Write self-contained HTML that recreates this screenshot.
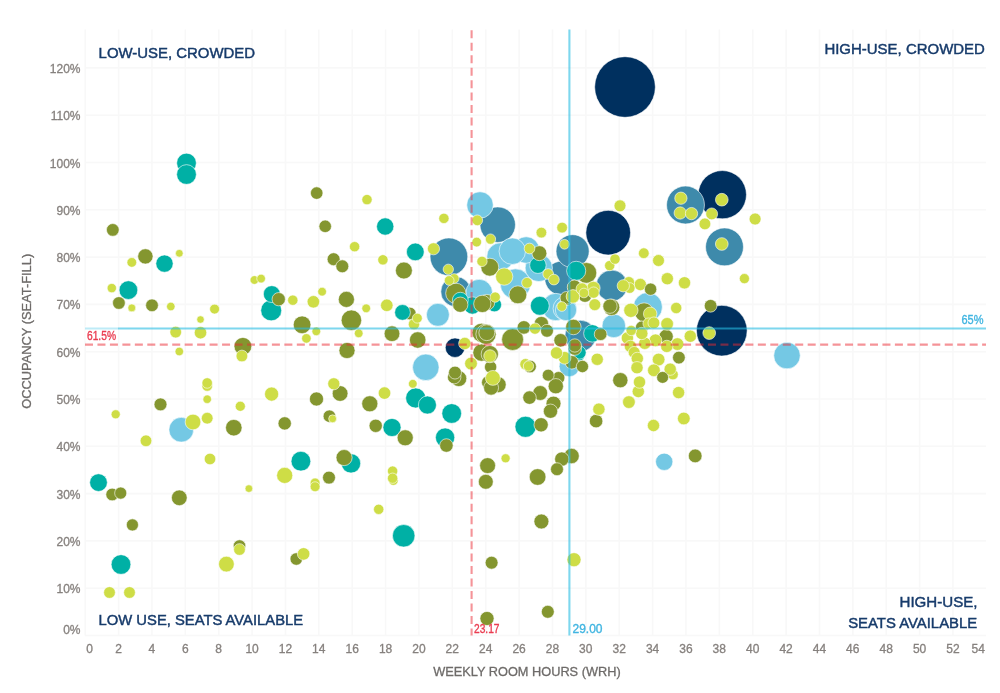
<!DOCTYPE html>
<html lang="en"><head><meta charset="utf-8"><title>Classroom utilization: weekly room hours vs occupancy</title>
<style>
html,body{margin:0;padding:0;background:#fff}
body{width:1000px;height:693px;overflow:hidden;font-family:"Liberation Sans",sans-serif}
svg{display:block}
.tick{font-size:12px;fill:#86817e}
.q{font-size:15.1px;fill:#173b6b}
.ax{font-size:13px;fill:#6e6b69}
.c circle{stroke:#fff;stroke-width:.7;stroke-opacity:.85}
.lb{stroke-width:.35}

.tick,.ax{stroke:#86817e;stroke-width:.3}
.ax{stroke:#6e6b69}
.q{stroke:#173b6b;stroke-width:.45}
</style></head><body>
<svg width="1000" height="693" viewBox="0 0 1000 693" font-family="Liberation Sans, sans-serif">
<rect width="1000" height="693" fill="#fff"/>

<g stroke="#f8f8f8" stroke-width="1.6" fill="none">
<line x1="85.20" y1="29.5" x2="85.20" y2="635.5"/>
<line x1="118.58" y1="29.5" x2="118.58" y2="635.5"/>
<line x1="151.95" y1="29.5" x2="151.95" y2="635.5"/>
<line x1="185.32" y1="29.5" x2="185.32" y2="635.5"/>
<line x1="218.70" y1="29.5" x2="218.70" y2="635.5"/>
<line x1="252.07" y1="29.5" x2="252.07" y2="635.5"/>
<line x1="285.45" y1="29.5" x2="285.45" y2="635.5"/>
<line x1="318.82" y1="29.5" x2="318.82" y2="635.5"/>
<line x1="352.20" y1="29.5" x2="352.20" y2="635.5"/>
<line x1="385.57" y1="29.5" x2="385.57" y2="635.5"/>
<line x1="418.95" y1="29.5" x2="418.95" y2="635.5"/>
<line x1="452.32" y1="29.5" x2="452.32" y2="635.5"/>
<line x1="485.70" y1="29.5" x2="485.70" y2="635.5"/>
<line x1="519.08" y1="29.5" x2="519.08" y2="635.5"/>
<line x1="552.45" y1="29.5" x2="552.45" y2="635.5"/>
<line x1="585.83" y1="29.5" x2="585.83" y2="635.5"/>
<line x1="619.20" y1="29.5" x2="619.20" y2="635.5"/>
<line x1="652.58" y1="29.5" x2="652.58" y2="635.5"/>
<line x1="685.95" y1="29.5" x2="685.95" y2="635.5"/>
<line x1="719.33" y1="29.5" x2="719.33" y2="635.5"/>
<line x1="752.70" y1="29.5" x2="752.70" y2="635.5"/>
<line x1="786.08" y1="29.5" x2="786.08" y2="635.5"/>
<line x1="819.45" y1="29.5" x2="819.45" y2="635.5"/>
<line x1="852.83" y1="29.5" x2="852.83" y2="635.5"/>
<line x1="886.20" y1="29.5" x2="886.20" y2="635.5"/>
<line x1="919.58" y1="29.5" x2="919.58" y2="635.5"/>
<line x1="952.95" y1="29.5" x2="952.95" y2="635.5"/>
<line x1="85" y1="635.50" x2="986" y2="635.50"/>
<line x1="85" y1="588.20" x2="986" y2="588.20"/>
<line x1="85" y1="540.90" x2="986" y2="540.90"/>
<line x1="85" y1="493.60" x2="986" y2="493.60"/>
<line x1="85" y1="446.30" x2="986" y2="446.30"/>
<line x1="85" y1="399.00" x2="986" y2="399.00"/>
<line x1="85" y1="351.70" x2="986" y2="351.70"/>
<line x1="85" y1="304.40" x2="986" y2="304.40"/>
<line x1="85" y1="257.10" x2="986" y2="257.10"/>
<line x1="85" y1="209.80" x2="986" y2="209.80"/>
<line x1="85" y1="162.50" x2="986" y2="162.50"/>
<line x1="85" y1="115.20" x2="986" y2="115.20"/>
<line x1="85" y1="67.90" x2="986" y2="67.90"/>
</g>
<g class="tick" text-anchor="end">
<text x="80.5" y="633.5">0%</text>
<text x="80.5" y="593.2">10%</text>
<text x="80.5" y="545.9">20%</text>
<text x="80.5" y="498.6">30%</text>
<text x="80.5" y="451.3">40%</text>
<text x="80.5" y="404.0">50%</text>
<text x="80.5" y="356.7">60%</text>
<text x="80.5" y="309.4">70%</text>
<text x="80.5" y="262.1">80%</text>
<text x="80.5" y="214.8">90%</text>
<text x="80.5" y="167.5">100%</text>
<text x="80.5" y="120.2">110%</text>
<text x="80.5" y="72.9">120%</text>
</g>
<g class="tick" text-anchor="middle">
<text x="89.7" y="653">0</text>
<text x="118.6" y="653">2</text>
<text x="151.9" y="653">4</text>
<text x="185.3" y="653">6</text>
<text x="218.7" y="653">8</text>
<text x="252.1" y="653">10</text>
<text x="285.4" y="653">12</text>
<text x="318.8" y="653">14</text>
<text x="352.2" y="653">16</text>
<text x="385.6" y="653">18</text>
<text x="418.9" y="653">20</text>
<text x="452.3" y="653">22</text>
<text x="485.7" y="653">24</text>
<text x="519.1" y="653">26</text>
<text x="552.5" y="653">28</text>
<text x="585.8" y="653">30</text>
<text x="619.2" y="653">32</text>
<text x="652.6" y="653">34</text>
<text x="686.0" y="653">36</text>
<text x="719.3" y="653">38</text>
<text x="752.7" y="653">40</text>
<text x="786.1" y="653">42</text>
<text x="819.5" y="653">44</text>
<text x="852.8" y="653">46</text>
<text x="886.2" y="653">48</text>
<text x="919.6" y="653">50</text>
<text x="953.0" y="653">52</text>
<text x="978.3" y="653">54</text>
</g>
<g class="c">
<circle cx="625.0" cy="87.0" r="30.35" fill="#00305f"/>
<circle cx="721.8" cy="330.7" r="25.35" fill="#00305f"/>
<circle cx="722.3" cy="194.7" r="24.150000000000002" fill="#00305f"/>
<circle cx="608.2" cy="232.7" r="22.35" fill="#00305f"/>
<circle cx="685.5" cy="205.0" r="18.950000000000003" fill="#3e8aab"/>
<circle cx="724.5" cy="246.9" r="18.950000000000003" fill="#3e8aab"/>
<circle cx="448.9" cy="256.8" r="18.85" fill="#3e8aab"/>
<circle cx="497.7" cy="224.7" r="17.75" fill="#3e8aab"/>
<circle cx="561.8" cy="278.2" r="17.05" fill="#3e8aab"/>
<circle cx="572.6" cy="251.2" r="16.55" fill="#3e8aab"/>
<circle cx="580.5" cy="335.8" r="15.549999999999999" fill="#3e8aab"/>
<circle cx="611.8" cy="285.6" r="15.549999999999999" fill="#3e8aab"/>
<circle cx="515.4" cy="284.0" r="15.15" fill="#74c8e4"/>
<circle cx="455.9" cy="291.7" r="15.049999999999999" fill="#3e8aab"/>
<circle cx="647.9" cy="307.0" r="14.45" fill="#74c8e4"/>
<circle cx="500.5" cy="256.5" r="13.65" fill="#74c8e4"/>
<circle cx="538.8" cy="267.9" r="13.65" fill="#74c8e4"/>
<circle cx="555.8" cy="307.0" r="13.65" fill="#74c8e4"/>
<circle cx="526.2" cy="250.0" r="13.25" fill="#74c8e4"/>
<circle cx="425.8" cy="367.3" r="13.25" fill="#74c8e4"/>
<circle cx="480.0" cy="205.0" r="13.25" fill="#74c8e4"/>
<circle cx="479.2" cy="292.6" r="13.25" fill="#74c8e4"/>
<circle cx="787.0" cy="355.6" r="13.25" fill="#74c8e4"/>
<circle cx="181.3" cy="429.7" r="12.35" fill="#74c8e4"/>
<circle cx="512.3" cy="251.2" r="13.25" fill="#74c8e4"/>
<circle cx="564.8" cy="308.5" r="11.75" fill="#74c8e4"/>
<circle cx="613.8" cy="325.9" r="11.75" fill="#74c8e4"/>
<circle cx="437.9" cy="314.8" r="11.45" fill="#74c8e4"/>
<circle cx="403.7" cy="535.8" r="11.25" fill="#00b0a5"/>
<circle cx="512.6" cy="339.5" r="10.95" fill="#84962f"/>
<circle cx="566.0" cy="310.0" r="10.65" fill="#74c8e4"/>
<circle cx="525.5" cy="426.8" r="10.549999999999999" fill="#00b0a5"/>
<circle cx="271.2" cy="310.4" r="10.45" fill="#00b0a5"/>
<circle cx="186.5" cy="163.0" r="9.85" fill="#00b0a5"/>
<circle cx="481.5" cy="332.7" r="9.45" fill="#84962f"/>
<circle cx="586.4" cy="272.9" r="10.35" fill="#84962f"/>
<circle cx="351.4" cy="320.2" r="10.25" fill="#84962f"/>
<circle cx="455.8" cy="293.3" r="10.15" fill="#84962f"/>
<circle cx="569.3" cy="366.5" r="10.15" fill="#74c8e4"/>
<circle cx="415.7" cy="398.0" r="10.049999999999999" fill="#00b0a5"/>
<circle cx="186.5" cy="174.5" r="9.85" fill="#00b0a5"/>
<circle cx="121.0" cy="564.5" r="9.85" fill="#00b0a5"/>
<circle cx="451.7" cy="413.5" r="9.85" fill="#00b0a5"/>
<circle cx="300.9" cy="461.2" r="9.85" fill="#00b0a5"/>
<circle cx="486.0" cy="334.2" r="10.15" fill="#84962f"/>
<circle cx="455.0" cy="347.7" r="9.75" fill="#00305f"/>
<circle cx="445.1" cy="437.6" r="9.65" fill="#00b0a5"/>
<circle cx="351.0" cy="463.4" r="9.65" fill="#00b0a5"/>
<circle cx="576.2" cy="270.8" r="9.549999999999999" fill="#00b0a5"/>
<circle cx="539.8" cy="305.8" r="9.45" fill="#00b0a5"/>
<circle cx="644.1" cy="312.3" r="9.45" fill="#84962f"/>
<circle cx="128.4" cy="290.1" r="9.35" fill="#00b0a5"/>
<circle cx="490.6" cy="367.0" r="6.1499999999999995" fill="#84962f"/>
<circle cx="427.4" cy="405.0" r="9.049999999999999" fill="#00b0a5"/>
<circle cx="392.0" cy="427.5" r="9.049999999999999" fill="#00b0a5"/>
<circle cx="489.8" cy="267.2" r="8.95" fill="#84962f"/>
<circle cx="517.9" cy="294.8" r="8.95" fill="#84962f"/>
<circle cx="242.9" cy="346.3" r="8.85" fill="#84962f"/>
<circle cx="98.5" cy="482.6" r="8.85" fill="#00b0a5"/>
<circle cx="415.3" cy="251.9" r="8.85" fill="#00b0a5"/>
<circle cx="302.1" cy="324.8" r="8.85" fill="#84962f"/>
<circle cx="494.4" cy="304.7" r="7.1499999999999995" fill="#00b0a5"/>
<circle cx="472.4" cy="305.5" r="8.65" fill="#00b0a5"/>
<circle cx="481.5" cy="352.6" r="8.65" fill="#84962f"/>
<circle cx="592.4" cy="333.4" r="8.75" fill="#00b0a5"/>
<circle cx="486.8" cy="302.4" r="7.949999999999999" fill="#84962f"/>
<circle cx="164.5" cy="263.6" r="8.65" fill="#00b0a5"/>
<circle cx="385.2" cy="226.5" r="8.65" fill="#00b0a5"/>
<circle cx="504.2" cy="276.6" r="8.65" fill="#cedd46"/>
<circle cx="482.3" cy="303.9" r="8.65" fill="#84962f"/>
<circle cx="489.8" cy="354.1" r="8.65" fill="#84962f"/>
<circle cx="664.2" cy="461.8" r="8.65" fill="#74c8e4"/>
<circle cx="403.9" cy="270.5" r="8.45" fill="#84962f"/>
<circle cx="271.8" cy="294.1" r="8.45" fill="#00b0a5"/>
<circle cx="409.8" cy="313.5" r="6.35" fill="#84962f"/>
<circle cx="558.5" cy="377.9" r="6.35" fill="#84962f"/>
<circle cx="537.6" cy="477.0" r="8.35" fill="#84962f"/>
<circle cx="233.8" cy="427.7" r="8.25" fill="#84962f"/>
<circle cx="417.7" cy="340.0" r="8.25" fill="#84962f"/>
<circle cx="537.9" cy="265.2" r="8.25" fill="#00b0a5"/>
<circle cx="611.5" cy="307.3" r="8.25" fill="#84962f"/>
<circle cx="346.4" cy="299.4" r="8.05" fill="#84962f"/>
<circle cx="347.0" cy="350.5" r="8.05" fill="#84962f"/>
<circle cx="369.8" cy="403.8" r="8.05" fill="#84962f"/>
<circle cx="405.2" cy="437.8" r="8.05" fill="#84962f"/>
<circle cx="284.7" cy="475.4" r="8.05" fill="#cedd46"/>
<circle cx="344.1" cy="457.6" r="8.05" fill="#84962f"/>
<circle cx="488.3" cy="382.4" r="6.75" fill="#84962f"/>
<circle cx="460.3" cy="300.2" r="7.949999999999999" fill="#00b0a5"/>
<circle cx="486.8" cy="332.7" r="7.949999999999999" fill="#84962f"/>
<circle cx="458.8" cy="378.6" r="7.949999999999999" fill="#84962f"/>
<circle cx="498.2" cy="384.7" r="7.949999999999999" fill="#84962f"/>
<circle cx="487.6" cy="465.6" r="7.949999999999999" fill="#84962f"/>
<circle cx="193.0" cy="422.0" r="7.85" fill="#cedd46"/>
<circle cx="179.3" cy="497.8" r="7.85" fill="#84962f"/>
<circle cx="226.4" cy="564.1" r="7.85" fill="#cedd46"/>
<circle cx="402.5" cy="312.4" r="7.85" fill="#00b0a5"/>
<circle cx="392.0" cy="333.7" r="7.85" fill="#84962f"/>
<circle cx="340.1" cy="393.5" r="7.85" fill="#84962f"/>
<circle cx="573.4" cy="327.0" r="7.75" fill="#84962f"/>
<circle cx="145.4" cy="256.4" r="7.6499999999999995" fill="#84962f"/>
<circle cx="460.3" cy="304.7" r="7.6499999999999995" fill="#84962f"/>
<circle cx="555.8" cy="386.2" r="7.6499999999999995" fill="#84962f"/>
<circle cx="571.6" cy="456.0" r="7.6499999999999995" fill="#84962f"/>
<circle cx="620.3" cy="380.2" r="7.6499999999999995" fill="#84962f"/>
<circle cx="539.4" cy="253.2" r="7.449999999999999" fill="#84962f"/>
<circle cx="491.1" cy="387.7" r="7.449999999999999" fill="#84962f"/>
<circle cx="540.2" cy="393.0" r="7.449999999999999" fill="#84962f"/>
<circle cx="553.5" cy="403.6" r="7.449999999999999" fill="#84962f"/>
<circle cx="485.8" cy="481.8" r="7.449999999999999" fill="#84962f"/>
<circle cx="541.4" cy="521.5" r="7.449999999999999" fill="#84962f"/>
<circle cx="579.8" cy="356.3" r="4.55" fill="#00b0a5"/>
<circle cx="454.2" cy="377.1" r="6.75" fill="#84962f"/>
<circle cx="579.6" cy="352.6" r="6.55" fill="#00b0a5"/>
<circle cx="574.7" cy="287.3" r="7.1499999999999995" fill="#84962f"/>
<circle cx="541.4" cy="323.6" r="7.1499999999999995" fill="#84962f"/>
<circle cx="550.5" cy="411.2" r="7.1499999999999995" fill="#84962f"/>
<circle cx="541.1" cy="424.8" r="7.1499999999999995" fill="#84962f"/>
<circle cx="561.8" cy="459.1" r="7.1499999999999995" fill="#84962f"/>
<circle cx="574.4" cy="287.2" r="7.1499999999999995" fill="#84962f"/>
<circle cx="610.0" cy="306.2" r="7.1499999999999995" fill="#84962f"/>
<circle cx="630.9" cy="310.3" r="7.1499999999999995" fill="#cedd46"/>
<circle cx="666.1" cy="336.5" r="7.1499999999999995" fill="#84962f"/>
<circle cx="271.6" cy="394.1" r="7.05" fill="#cedd46"/>
<circle cx="316.5" cy="399.0" r="7.05" fill="#84962f"/>
<circle cx="487.0" cy="618.5" r="7.05" fill="#84962f"/>
<circle cx="574.0" cy="559.7" r="7.05" fill="#cedd46"/>
<circle cx="574.8" cy="348.6" r="6.75" fill="#84962f"/>
<circle cx="566.8" cy="299.4" r="6.1499999999999995" fill="#84962f"/>
<circle cx="566.4" cy="297.9" r="6.35" fill="#84962f"/>
<circle cx="525.5" cy="364.2" r="5.6499999999999995" fill="#cedd46"/>
<circle cx="571.8" cy="362.3" r="6.75" fill="#84962f"/>
<circle cx="695.2" cy="455.9" r="6.85" fill="#84962f"/>
<circle cx="446.4" cy="445.5" r="6.75" fill="#84962f"/>
<circle cx="523.9" cy="327.4" r="6.75" fill="#84962f"/>
<circle cx="560.6" cy="340.3" r="6.75" fill="#84962f"/>
<circle cx="529.5" cy="397.6" r="6.75" fill="#84962f"/>
<circle cx="593.4" cy="288.1" r="6.75" fill="#cedd46"/>
<circle cx="585.0" cy="295.6" r="6.75" fill="#84962f"/>
<circle cx="650.2" cy="313.8" r="6.75" fill="#cedd46"/>
<circle cx="596.1" cy="421.1" r="6.75" fill="#84962f"/>
<circle cx="278.7" cy="299.2" r="6.6499999999999995" fill="#84962f"/>
<circle cx="284.7" cy="423.4" r="6.6499999999999995" fill="#84962f"/>
<circle cx="375.7" cy="425.8" r="6.6499999999999995" fill="#84962f"/>
<circle cx="333.6" cy="259.2" r="6.449999999999999" fill="#84962f"/>
<circle cx="574.8" cy="345.5" r="6.6499999999999995" fill="#84962f"/>
<circle cx="160.5" cy="404.4" r="6.449999999999999" fill="#84962f"/>
<circle cx="342.3" cy="266.3" r="6.449999999999999" fill="#84962f"/>
<circle cx="329.0" cy="477.6" r="6.449999999999999" fill="#84962f"/>
<circle cx="547.0" cy="330.8" r="6.449999999999999" fill="#84962f"/>
<circle cx="455.0" cy="372.6" r="6.449999999999999" fill="#84962f"/>
<circle cx="557.0" cy="469.2" r="6.449999999999999" fill="#84962f"/>
<circle cx="491.6" cy="562.7" r="6.449999999999999" fill="#84962f"/>
<circle cx="547.8" cy="611.8" r="6.449999999999999" fill="#84962f"/>
<circle cx="112.8" cy="229.9" r="6.35" fill="#84962f"/>
<circle cx="118.9" cy="303.0" r="6.35" fill="#84962f"/>
<circle cx="152.0" cy="305.3" r="6.35" fill="#84962f"/>
<circle cx="112.2" cy="494.5" r="6.35" fill="#84962f"/>
<circle cx="296.3" cy="559.0" r="6.25" fill="#84962f"/>
<circle cx="573.2" cy="296.4" r="6.35" fill="#cedd46"/>
<circle cx="471.0" cy="363.6" r="6.35" fill="#cedd46"/>
<circle cx="530.0" cy="366.5" r="6.35" fill="#84962f"/>
<circle cx="564.6" cy="357.8" r="6.35" fill="#cedd46"/>
<circle cx="641.8" cy="327.4" r="6.35" fill="#84962f"/>
<circle cx="667.1" cy="323.9" r="6.35" fill="#cedd46"/>
<circle cx="710.6" cy="305.8" r="6.35" fill="#84962f"/>
<circle cx="709.2" cy="333.1" r="6.35" fill="#cedd46"/>
<circle cx="655.5" cy="340.3" r="6.35" fill="#cedd46"/>
<circle cx="677.4" cy="344.1" r="6.35" fill="#cedd46"/>
<circle cx="658.6" cy="359.5" r="6.35" fill="#cedd46"/>
<circle cx="678.9" cy="357.6" r="6.35" fill="#84962f"/>
<circle cx="600.6" cy="334.2" r="6.35" fill="#84962f"/>
<circle cx="628.9" cy="402.1" r="6.35" fill="#cedd46"/>
<circle cx="683.8" cy="418.5" r="6.35" fill="#cedd46"/>
<circle cx="653.9" cy="370.3" r="6.35" fill="#cedd46"/>
<circle cx="672.9" cy="374.5" r="5.35" fill="#cedd46"/>
<circle cx="721.8" cy="199.7" r="6.35" fill="#cedd46"/>
<circle cx="721.8" cy="244.0" r="6.35" fill="#cedd46"/>
<circle cx="200.5" cy="332.7" r="6.25" fill="#cedd46"/>
<circle cx="239.5" cy="546.0" r="6.25" fill="#84962f"/>
<circle cx="316.7" cy="193.1" r="6.25" fill="#84962f"/>
<circle cx="325.2" cy="226.3" r="6.25" fill="#84962f"/>
<circle cx="313.4" cy="301.8" r="6.25" fill="#cedd46"/>
<circle cx="386.8" cy="305.3" r="6.25" fill="#cedd46"/>
<circle cx="384.5" cy="393.1" r="6.25" fill="#cedd46"/>
<circle cx="329.4" cy="416.2" r="6.25" fill="#84962f"/>
<circle cx="303.6" cy="553.9" r="6.25" fill="#cedd46"/>
<circle cx="490.0" cy="356.0" r="6.25" fill="#cedd46"/>
<circle cx="572.9" cy="296.4" r="6.75" fill="#cedd46"/>
<circle cx="638.3" cy="391.5" r="6.1499999999999995" fill="#cedd46"/>
<circle cx="464.8" cy="343.5" r="6.1499999999999995" fill="#cedd46"/>
<circle cx="556.5" cy="353.0" r="6.1499999999999995" fill="#cedd46"/>
<circle cx="680.9" cy="198.2" r="6.1499999999999995" fill="#cedd46"/>
<circle cx="680.2" cy="213.0" r="6.1499999999999995" fill="#cedd46"/>
<circle cx="691.5" cy="213.6" r="6.1499999999999995" fill="#cedd46"/>
<circle cx="667.3" cy="278.7" r="6.1499999999999995" fill="#cedd46"/>
<circle cx="684.5" cy="282.8" r="6.1499999999999995" fill="#cedd46"/>
<circle cx="640.3" cy="284.5" r="6.1499999999999995" fill="#cedd46"/>
<circle cx="650.6" cy="289.2" r="6.1499999999999995" fill="#84962f"/>
<circle cx="690.3" cy="336.2" r="6.1499999999999995" fill="#cedd46"/>
<circle cx="666.8" cy="346.4" r="6.1499999999999995" fill="#cedd46"/>
<circle cx="644.8" cy="343.3" r="6.1499999999999995" fill="#cedd46"/>
<circle cx="641.8" cy="333.5" r="6.1499999999999995" fill="#cedd46"/>
<circle cx="627.4" cy="338.0" r="6.1499999999999995" fill="#cedd46"/>
<circle cx="597.2" cy="359.3" r="6.1499999999999995" fill="#cedd46"/>
<circle cx="582.4" cy="366.5" r="6.1499999999999995" fill="#84962f"/>
<circle cx="639.5" cy="382.1" r="6.1499999999999995" fill="#cedd46"/>
<circle cx="598.9" cy="409.2" r="6.1499999999999995" fill="#cedd46"/>
<circle cx="653.5" cy="425.5" r="6.1499999999999995" fill="#cedd46"/>
<circle cx="678.6" cy="392.6" r="6.1499999999999995" fill="#cedd46"/>
<circle cx="670.2" cy="369.2" r="6.1499999999999995" fill="#cedd46"/>
<circle cx="120.7" cy="493.1" r="6.05" fill="#84962f"/>
<circle cx="132.4" cy="524.9" r="6.05" fill="#84962f"/>
<circle cx="433.5" cy="248.8" r="6.05" fill="#cedd46"/>
<circle cx="333.8" cy="383.8" r="6.05" fill="#cedd46"/>
<circle cx="648.6" cy="323.6" r="5.6499999999999995" fill="#cedd46"/>
<circle cx="630.5" cy="346.4" r="6.1499999999999995" fill="#cedd46"/>
<circle cx="548.2" cy="375.2" r="5.949999999999999" fill="#84962f"/>
<circle cx="620.0" cy="205.8" r="5.949999999999999" fill="#cedd46"/>
<circle cx="658.5" cy="260.5" r="5.949999999999999" fill="#cedd46"/>
<circle cx="582.0" cy="288.8" r="5.949999999999999" fill="#cedd46"/>
<circle cx="594.8" cy="304.7" r="5.949999999999999" fill="#cedd46"/>
<circle cx="653.9" cy="322.9" r="5.949999999999999" fill="#cedd46"/>
<circle cx="634.2" cy="352.4" r="5.949999999999999" fill="#cedd46"/>
<circle cx="662.6" cy="377.4" r="5.949999999999999" fill="#84962f"/>
<circle cx="711.7" cy="213.9" r="5.949999999999999" fill="#cedd46"/>
<circle cx="755.1" cy="219.0" r="5.949999999999999" fill="#cedd46"/>
<circle cx="175.7" cy="332.1" r="5.85" fill="#cedd46"/>
<circle cx="241.9" cy="356.0" r="5.85" fill="#cedd46"/>
<circle cx="207.2" cy="418.2" r="5.85" fill="#cedd46"/>
<circle cx="146.0" cy="440.8" r="5.85" fill="#cedd46"/>
<circle cx="239.5" cy="549.5" r="5.85" fill="#cedd46"/>
<circle cx="109.5" cy="592.5" r="5.85" fill="#cedd46"/>
<circle cx="129.5" cy="592.5" r="5.85" fill="#cedd46"/>
<circle cx="704.9" cy="223.9" r="5.85" fill="#cedd46"/>
<circle cx="637.3" cy="358.4" r="6.1499999999999995" fill="#cedd46"/>
<circle cx="210.0" cy="459.0" r="5.75" fill="#cedd46"/>
<circle cx="637.0" cy="367.7" r="6.1499999999999995" fill="#cedd46"/>
<circle cx="414.0" cy="324.2" r="5.6499999999999995" fill="#cedd46"/>
<circle cx="535.0" cy="328.6" r="5.6499999999999995" fill="#cedd46"/>
<circle cx="628.9" cy="282.2" r="5.6499999999999995" fill="#cedd46"/>
<circle cx="593.6" cy="292.6" r="5.6499999999999995" fill="#cedd46"/>
<circle cx="676.2" cy="308.0" r="5.6499999999999995" fill="#cedd46"/>
<circle cx="207.2" cy="385.9" r="5.35" fill="#cedd46"/>
<circle cx="393.4" cy="480.6" r="4.75" fill="#cedd46"/>
<circle cx="477.3" cy="220.3" r="5.35" fill="#cedd46"/>
<circle cx="529.5" cy="248.5" r="5.35" fill="#cedd46"/>
<circle cx="527.0" cy="282.8" r="5.35" fill="#cedd46"/>
<circle cx="541.4" cy="232.6" r="5.35" fill="#cedd46"/>
<circle cx="562.1" cy="227.6" r="5.35" fill="#cedd46"/>
<circle cx="548.2" cy="274.0" r="5.35" fill="#cedd46"/>
<circle cx="492.9" cy="377.9" r="7.449999999999999" fill="#cedd46"/>
<circle cx="643.8" cy="253.2" r="5.35" fill="#cedd46"/>
<circle cx="629.7" cy="288.0" r="5.35" fill="#cedd46"/>
<circle cx="207.2" cy="383.0" r="5.25" fill="#cedd46"/>
<circle cx="553.9" cy="279.6" r="5.35" fill="#cedd46"/>
<circle cx="609.7" cy="265.6" r="5.1499999999999995" fill="#cedd46"/>
<circle cx="367.0" cy="199.6" r="5.1499999999999995" fill="#cedd46"/>
<circle cx="443.9" cy="218.4" r="5.1499999999999995" fill="#cedd46"/>
<circle cx="354.6" cy="246.7" r="5.1499999999999995" fill="#cedd46"/>
<circle cx="382.9" cy="259.8" r="5.1499999999999995" fill="#cedd46"/>
<circle cx="448.3" cy="269.3" r="5.1499999999999995" fill="#cedd46"/>
<circle cx="292.8" cy="300.2" r="5.1499999999999995" fill="#cedd46"/>
<circle cx="392.6" cy="471.1" r="5.1499999999999995" fill="#cedd46"/>
<circle cx="392.6" cy="478.2" r="5.1499999999999995" fill="#cedd46"/>
<circle cx="378.7" cy="509.3" r="5.1499999999999995" fill="#cedd46"/>
<circle cx="490.5" cy="239.1" r="5.1499999999999995" fill="#cedd46"/>
<circle cx="482.0" cy="261.4" r="5.1499999999999995" fill="#cedd46"/>
<circle cx="495.2" cy="297.1" r="5.1499999999999995" fill="#cedd46"/>
<circle cx="528.5" cy="366.1" r="5.1499999999999995" fill="#cedd46"/>
<circle cx="615.0" cy="259.1" r="5.1499999999999995" fill="#cedd46"/>
<circle cx="631.2" cy="330.5" r="5.1499999999999995" fill="#cedd46"/>
<circle cx="240.3" cy="406.3" r="5.05" fill="#cedd46"/>
<circle cx="315.1" cy="483.0" r="4.949999999999999" fill="#cedd46"/>
<circle cx="744.4" cy="278.6" r="5.05" fill="#cedd46"/>
<circle cx="214.6" cy="309.1" r="4.949999999999999" fill="#cedd46"/>
<circle cx="417.3" cy="318.2" r="4.949999999999999" fill="#cedd46"/>
<circle cx="315.1" cy="486.7" r="4.949999999999999" fill="#cedd46"/>
<circle cx="131.8" cy="262.4" r="4.85" fill="#cedd46"/>
<circle cx="454.2" cy="278.5" r="4.85" fill="#cedd46"/>
<circle cx="476.7" cy="242.1" r="4.85" fill="#cedd46"/>
<circle cx="564.5" cy="244.3" r="4.85" fill="#cedd46"/>
<circle cx="561.8" cy="306.5" r="4.85" fill="#cedd46"/>
<circle cx="583.9" cy="293.0" r="4.85" fill="#cedd46"/>
<circle cx="449.2" cy="280.5" r="4.85" fill="#cedd46"/>
<circle cx="306.4" cy="338.4" r="4.75" fill="#cedd46"/>
<circle cx="111.8" cy="288.1" r="4.6499999999999995" fill="#cedd46"/>
<circle cx="115.7" cy="414.3" r="4.55" fill="#cedd46"/>
<circle cx="505.6" cy="458.3" r="4.55" fill="#cedd46"/>
<circle cx="254.4" cy="280.0" r="4.35" fill="#cedd46"/>
<circle cx="322.1" cy="291.7" r="4.35" fill="#cedd46"/>
<circle cx="366.2" cy="308.3" r="4.35" fill="#cedd46"/>
<circle cx="316.3" cy="331.3" r="4.35" fill="#cedd46"/>
<circle cx="358.7" cy="333.3" r="4.35" fill="#cedd46"/>
<circle cx="412.8" cy="383.8" r="4.35" fill="#cedd46"/>
<circle cx="623.3" cy="285.8" r="6.1499999999999995" fill="#cedd46"/>
<circle cx="170.8" cy="306.5" r="4.25" fill="#cedd46"/>
<circle cx="179.3" cy="351.5" r="4.25" fill="#cedd46"/>
<circle cx="207.2" cy="399.2" r="4.25" fill="#cedd46"/>
<circle cx="261.1" cy="278.6" r="4.35" fill="#cedd46"/>
<circle cx="131.8" cy="307.9" r="3.95" fill="#cedd46"/>
<circle cx="332.6" cy="418.8" r="3.95" fill="#cedd46"/>
<circle cx="179.3" cy="253.3" r="3.85" fill="#cedd46"/>
<circle cx="248.9" cy="488.6" r="3.85" fill="#cedd46"/>
<circle cx="200.5" cy="319.5" r="3.75" fill="#cedd46"/>
</g>
<g fill="none" stroke-width="2.1">
<line x1="85" y1="328.5" x2="986" y2="328.5" stroke="#26bce3" stroke-opacity=".6"/>
<line x1="569.4" y1="29.5" x2="569.4" y2="635.5" stroke="#26bce3" stroke-opacity=".6"/>
<line x1="85" y1="344.6" x2="986" y2="344.6" stroke="#eb2832" stroke-opacity=".5" stroke-dasharray="8 4.46"/>
<line x1="471.6" y1="29.5" x2="471.6" y2="635.5" stroke="#eb2832" stroke-opacity=".5" stroke-dasharray="8 4.46" stroke-dashoffset="-0.8"/>
</g>
<rect x="85" y="326" width="33" height="15.5" fill="#fff" opacity=".5"/>
<text x="87" y="339.5" font-size="12" fill="#ea3c50" stroke="#ea3c50" class="lb" textLength="29" lengthAdjust="spacingAndGlyphs">61.5%</text>
<text x="983.5" y="323.5" font-size="12" fill="#41b5e1" stroke="#41b5e1" class="lb" text-anchor="end" textLength="22" lengthAdjust="spacingAndGlyphs">65%</text>
<text x="474" y="632.5" font-size="12" fill="#ea3c50" stroke="#ea3c50" class="lb" textLength="25.5" lengthAdjust="spacingAndGlyphs">23.17</text>
<text x="572.5" y="632.5" font-size="12" fill="#41b5e1" stroke="#41b5e1" class="lb" textLength="30" lengthAdjust="spacingAndGlyphs">29.00</text>
<g class="q">
<text x="98.6" y="57.5" textLength="156.5" lengthAdjust="spacingAndGlyphs">LOW-USE, CROWDED</text>
<text x="824.4" y="54.3" textLength="160.5" lengthAdjust="spacingAndGlyphs">HIGH-USE, CROWDED</text>
<text x="98.6" y="624.5" textLength="204.5" lengthAdjust="spacingAndGlyphs">LOW USE, SEATS AVAILABLE</text>
<text x="899.5" y="606.6" textLength="78" lengthAdjust="spacingAndGlyphs">HIGH-USE,</text>
<text x="848.2" y="627.8" textLength="129" lengthAdjust="spacingAndGlyphs">SEATS AVAILABLE</text>
</g>
<text class="ax" x="433.2" y="676.3" textLength="187.5" lengthAdjust="spacingAndGlyphs">WEEKLY ROOM HOURS (WRH)</text>
<text class="ax" transform="translate(31.3 408.8) rotate(-90)" textLength="155" lengthAdjust="spacingAndGlyphs">OCCUPANCY (SEAT-FILL)</text>
</svg></body></html>
